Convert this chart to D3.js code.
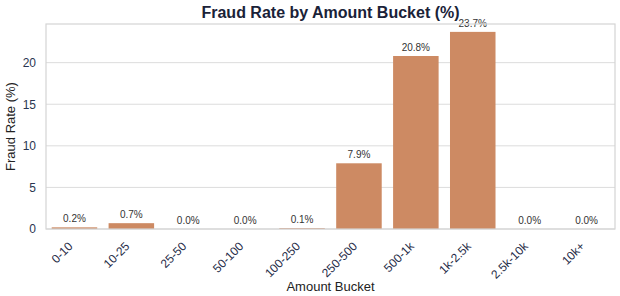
<!DOCTYPE html>
<html>
<head>
<meta charset="utf-8">
<script src="https://cdn.jsdelivr.net/npm/d3@7"></script>
<style>
	body { margin: 0; background: #fff; }
	svg { font-family: "Liberation Sans", Arial, sans-serif; }
</style>
</head>
<body>
<svg id="chart" width="620" height="296"></svg>
<script>
const buckets = ["0-10", "10-25", "25-50", "50-100", "100-250", "250-500", "500-1k", "1k-2.5k", "2.5k-10k", "10k+"];
const fraudRates = [0.2, 0.7, 0.0, 0.0, 0.1, 7.9, 20.8, 23.7, 0.0, 0.0];
const yTicks = [0, 5, 10, 15, 20];

const svg = d3.select("#chart");
const margin = { top: 24, right: 5, bottom: 67, left: 46 };
const width = 620 - margin.left - margin.right;
const height = 296 - margin.top - margin.bottom;

const data = buckets.map((b, i) => ({ name: b, value: fraudRates[i] }));

const x = d3.scaleBand().domain(buckets).range([0, width]).paddingInner(0.2).paddingOuter(0.1);
const y = d3.scaleLinear().domain([0, d3.max(fraudRates) * 1.04]).range([height, 0]);

const g = svg.append("g").attr("transform", `translate(${margin.left},${margin.top})`);

// Gridlines
g.append("g")
	.selectAll("line")
	.data(yTicks)
	.join("line")
	.attr("x1", 0)
	.attr("x2", width)
	.attr("y1", (d) => y(d))
	.attr("y2", (d) => y(d))
	.attr("stroke", "#dcdcdc")
	.attr("stroke-width", 1);

// Bars
g.append("g")
	.selectAll("rect")
	.data(data)
	.join("rect")
	.attr("x", (d) => x(d.name))
	.attr("y", (d) => y(d.value))
	.attr("width", x.bandwidth())
	.attr("height", (d) => height - y(d.value))
	.attr("fill", "#cd8a63");

// Value labels
g.append("g")
	.selectAll("text")
	.data(data)
	.join("text")
	.attr("x", (d) => x(d.name) + x.bandwidth() / 2)
	.attr("y", (d) => y(d.value) - 5)
	.attr("text-anchor", "middle")
	.attr("font-size", "10px")
	.attr("fill", "#333")
	.text((d) => `${d.value.toFixed(1)}%`);

// Frame
g.append("rect")
	.attr("x", 0)
	.attr("y", 0)
	.attr("width", width)
	.attr("height", height)
	.attr("fill", "none")
	.attr("stroke", "#d4d4d4")
	.attr("stroke-width", 1.2);

// Axes
const yAxis = g.append("g").call(d3.axisLeft(y).tickValues(yTicks).tickSize(0).tickPadding(10));
yAxis.select(".domain").remove();
yAxis.selectAll("text").attr("font-size", "12px").attr("fill", "#2a3550").attr("font-family", null);

const xAxis = g
	.append("g")
	.attr("transform", `translate(0,${height})`)
	.call(d3.axisBottom(x).tickSize(0));
xAxis.select(".domain").remove();
xAxis
	.selectAll("text")
	.attr("font-size", "12px")
	.attr("fill", "#1f2b47")
	.attr("font-family", null)
	.attr("text-anchor", "end")
	.attr("x", 0)
	.attr("y", 0)
	.attr("dy", "0.35em")
	.attr("transform", "translate(-4,15) rotate(-45)");

// Axis titles
svg.append("text")
	.attr("x", margin.left + width / 2)
	.attr("y", 291)
	.attr("text-anchor", "middle")
	.attr("font-size", "13px")
	.attr("fill", "#222")
	.text("Amount Bucket");

svg.append("text")
	.attr("transform", `translate(15,${margin.top + height / 2}) rotate(-90)`)
	.attr("text-anchor", "middle")
	.attr("font-size", "13px")
	.attr("fill", "#222")
	.text("Fraud Rate (%)");

// Title
svg.append("text")
	.attr("x", margin.left + width / 2)
	.attr("y", 18)
	.attr("text-anchor", "middle")
	.attr("font-size", "16px")
	.attr("font-weight", "bold")
	.attr("fill", "#1a2238")
	.text("Fraud Rate by Amount Bucket (%)");
</script>
</body>
</html>
